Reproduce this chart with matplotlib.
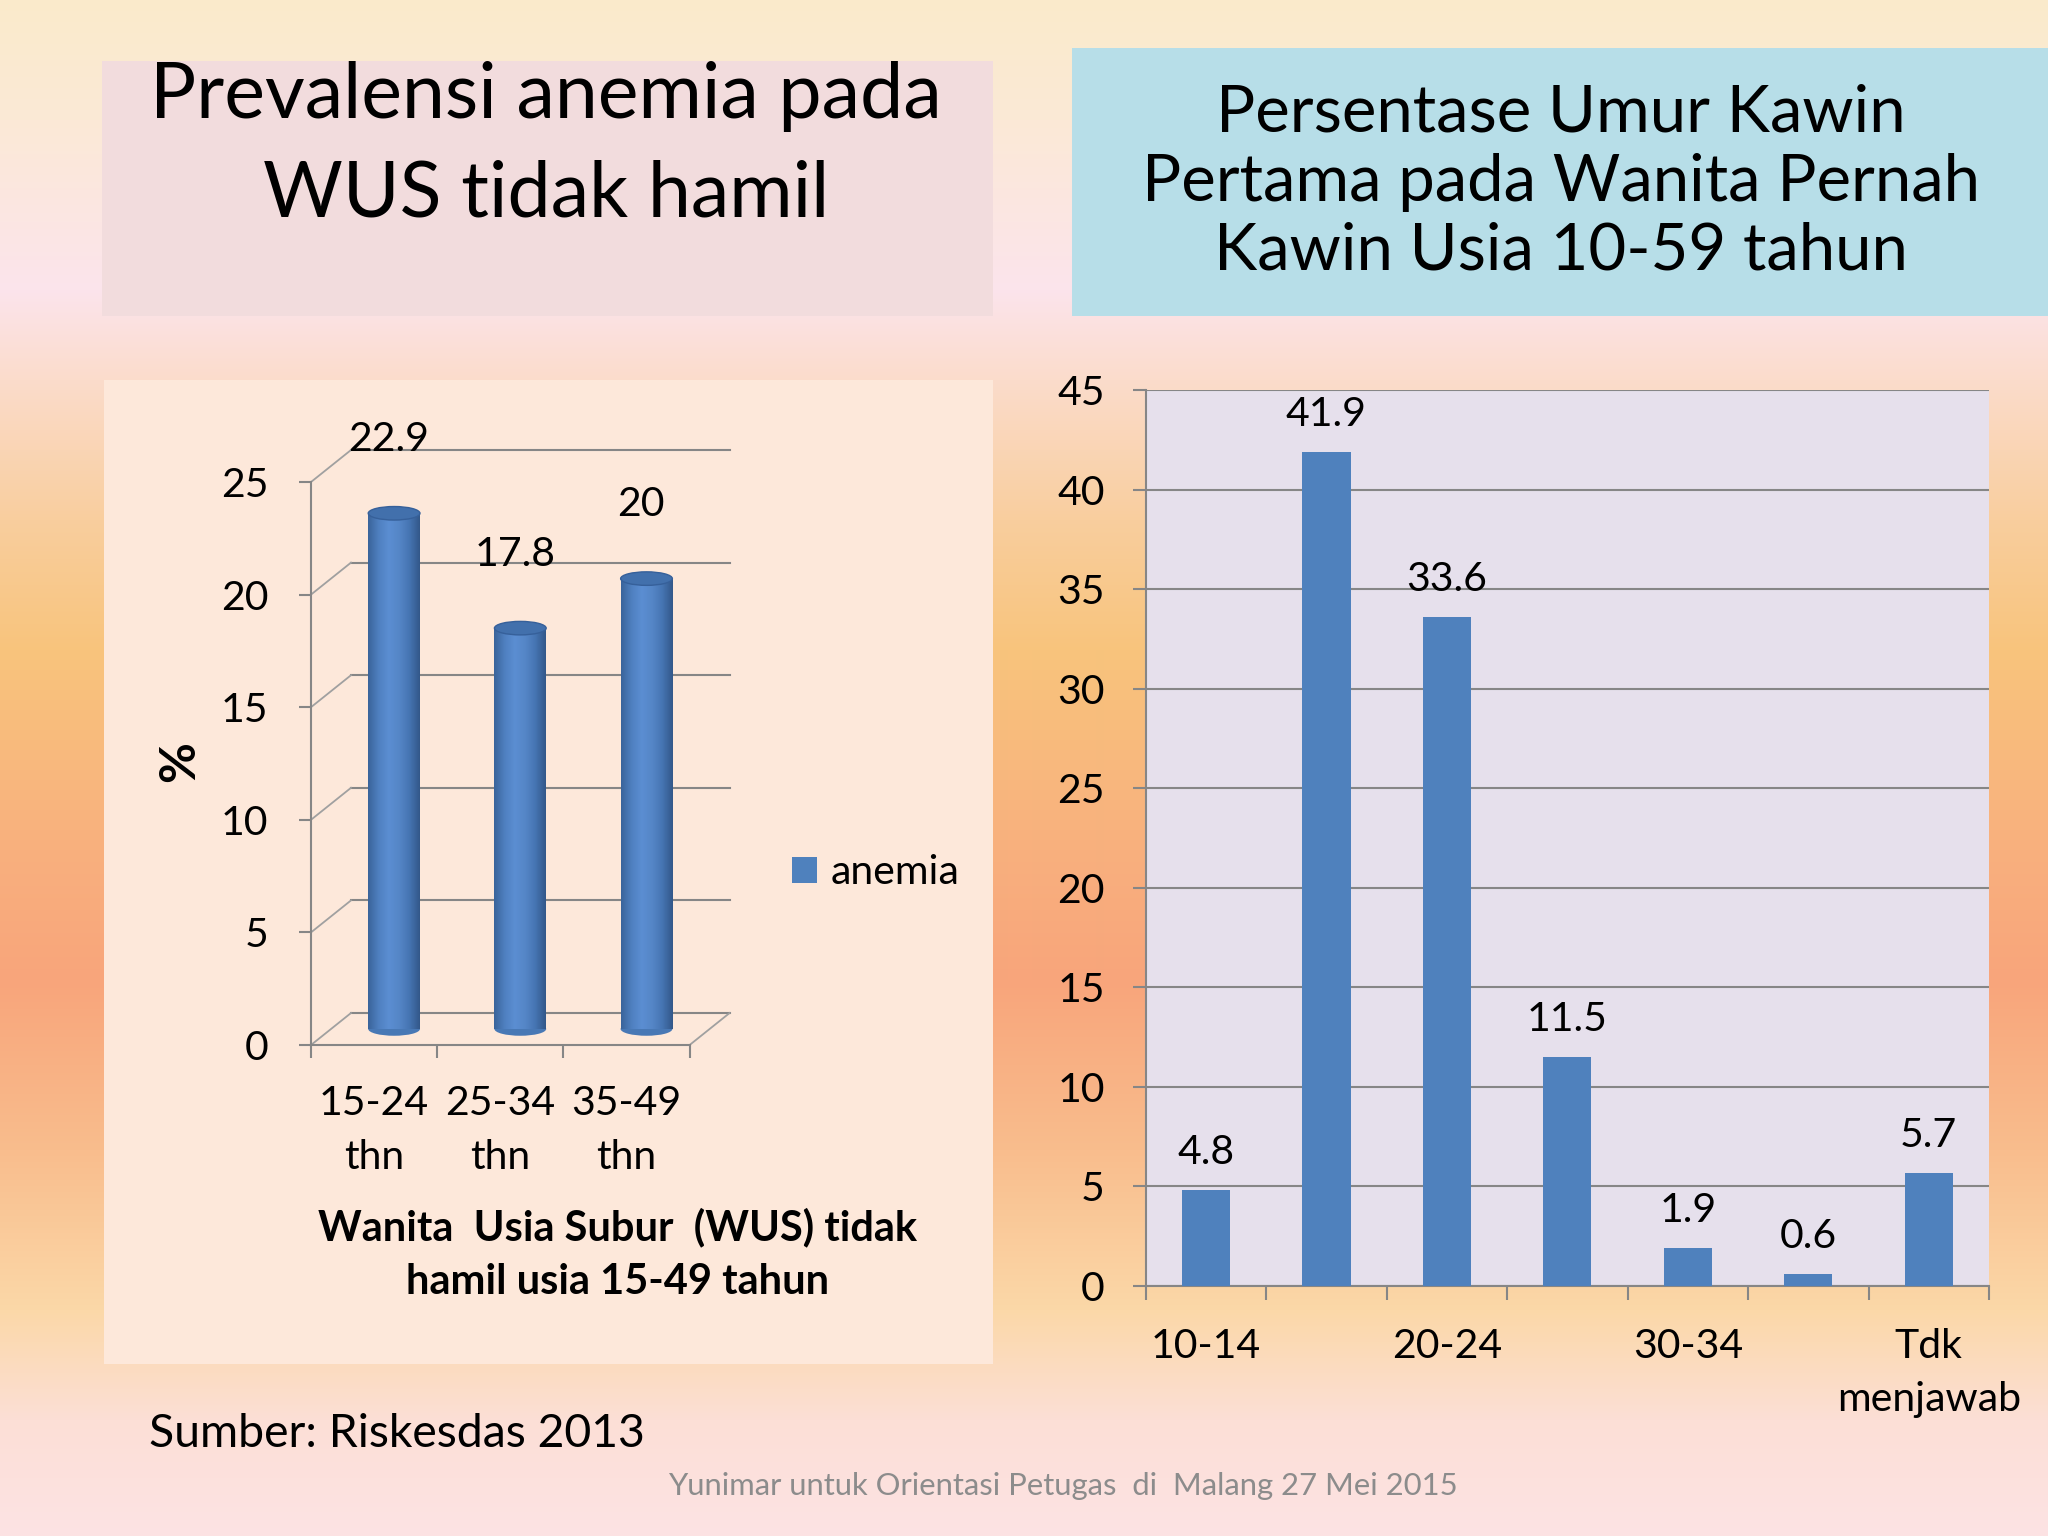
import numpy as np
import matplotlib
matplotlib.use("Agg")
import matplotlib.pyplot as plt
from matplotlib.patches import Rectangle, Ellipse
from matplotlib.colors import LinearSegmentedColormap, to_rgb

plt.rcParams['font.family'] = ['Lato', 'DejaVu Sans']

# ---------------- data ----------------
anemia_groups = ["15-24\nthn", "25-34\nthn", "35-49\nthn"]
anemia_values = [22.9, 17.8, 20.0]
anemia_series = "anemia"
anemia_ticks = [0, 5, 10, 15, 20, 25]

marriage_groups = ["10-14", "15-19", "20-24", "25-29", "30-34", "35-39", "Tdk\nmenjawab"]
marriage_values = [4.8, 41.9, 33.6, 11.5, 1.9, 0.6, 5.7]
marriage_ticks = [0, 5, 10, 15, 20, 25, 30, 35, 40, 45]

title_left = ["Prevalensi anemia pada", "WUS tidak hamil"]
title_right = ["Persentase Umur Kawin", "Pertama pada Wanita Pernah", "Kawin Usia 10-59 tahun"]
left_xlabel = "Wanita  Usia Subur  (WUS) tidak\nhamil usia 15-49 tahun"
left_ylabel = "%"
source_text = "Sumber: Riskesdas 2013"
footer_text = "Yunimar untuk Orientasi Petugas  di  Malang 27 Mei 2015"

# ---------------- figure ----------------
W, H = 2048, 1536
fig = plt.figure(figsize=(20.48, 15.36), dpi=100)


def fx(px):
    return px / W


def fy(py):
    return 1 - py / H


# background gradient (vertical)
bg = fig.add_axes([0, 0, 1, 1], zorder=-10)
bg.set_axis_off()
stops = [(0, '#FAEBCB'), (120, '#FBE9D6'), (290, '#FCE4EC'), (380, '#FBDCCB'),
         (520, '#F9CE9E'), (650, '#F8C47C'), (850, '#F8B07E'), (980, '#F8A57B'),
         (1150, '#F9BD8D'), (1310, '#FBD8A8'), (1420, '#FCDFD6'), (1536, '#FDE3E4')]
ys = np.arange(H)
sp = np.array([s[0] for s in stops])
cols = np.array([to_rgb(s[1]) for s in stops])
grad = np.stack([np.interp(ys, sp, cols[:, k]) for k in range(3)], axis=-1)[:, None, :]
bg.imshow(grad, aspect='auto', extent=[0, 1, 0, 1], origin='upper', interpolation='bilinear')
bg.set_xlim(0, 1)
bg.set_ylim(0, 1)


def rect(x0, y0, x1, y1, color):
    bg.add_patch(Rectangle((fx(x0), fy(y1)), fx(x1) - fx(x0), (y1 - y0) / H,
                           facecolor=color, edgecolor='none', zorder=2))


rect(102, 61, 993, 316, '#F2DCDD')
rect(1072, 48, 2048, 316, '#B7DEE8')
rect(104, 380, 993, 1364, '#FDE8DA')

# titles
for i, line in enumerate(title_left):
    fig.text(fx(546), fy(96 + i * 99), line, ha='center', va='center', fontsize=55.5, color='black')
for i, line in enumerate(title_right):
    fig.text(fx(1561), fy(113 + i * 69), line, ha='center', va='center', fontsize=47, color='black')

GRAY = '#868686'
FS = 29.5

# ---------------- left: 3D-like cylinder chart ----------------
axL = fig.add_axes([fx(311), fy(1045), (689.6 - 311) / W, (1045 - 482) / H])
axL.patch.set_visible(False)
nL = len(anemia_values)
axL.set_xlim(-0.5, nL - 0.5)
axL.set_ylim(0, 25)
DX = 40 / 126.2   # depth offset in category units
DY = 32 / 22.52   # depth offset in value units
EH = 0.6          # ellipse height in value units
BW = 0.41

for s in ['top', 'right']:
    axL.spines[s].set_visible(False)
for s in ['left', 'bottom']:
    axL.spines[s].set_color(GRAY)
    axL.spines[s].set_linewidth(1.5)

# back wall gridlines and side diagonals
for v in anemia_ticks:
    axL.plot([-0.5 + DX, nL - 0.5 + DX], [v + DY, v + DY], color=GRAY, lw=1.5, clip_on=False, zorder=1)
    axL.plot([-0.5, -0.5 + DX], [v, v + DY], color='#A0A0A0', lw=1.3, clip_on=False, zorder=1)
axL.plot([nL - 0.5, nL - 0.5 + DX], [0, DY], color='#A0A0A0', lw=1.3, clip_on=False, zorder=1)

axL.set_yticks(anemia_ticks)
axL.set_yticklabels([str(t) for t in anemia_ticks], fontsize=FS)
axL.tick_params(axis='y', length=8.6, width=1.5, color=GRAY, pad=22)
axL.set_xticks(range(nL))
axL.set_xticklabels(anemia_groups, fontsize=FS, linespacing=1.56)
axL.set_xticks(np.arange(-0.5, nL, 1.0), minor=True)
axL.tick_params(axis='x', which='major', length=0, pad=29)
axL.tick_params(axis='x', which='minor', length=9, width=1.5, color=GRAY)

cmap = LinearSegmentedColormap.from_list('cyl', ['#3A649B', '#4F80C0', '#5B8ED2', '#5586C7', '#4675B3', '#33588A'])
xc = np.arange(nL) + DX / 2
bars = axL.bar(xc, anemia_values, bottom=DY / 2, width=BW, color='#4F81BD',
               zorder=3, clip_on=False, label=anemia_series)
gimg = np.linspace(0, 1, 64)[None, :]
for b, x, v in zip(bars, xc, anemia_values):
    axL.add_patch(Ellipse((x, DY / 2), BW, EH, facecolor='#4878B5', edgecolor='none', zorder=2.9, clip_on=False))
    im = axL.imshow(gimg, cmap=cmap, aspect='auto', extent=[x - BW / 2, x + BW / 2, DY / 2, v + DY / 2],
                    zorder=3.1, interpolation='bilinear')
    im.set_clip_path(b)
    axL.add_patch(Ellipse((x, v + DY / 2), BW, EH, facecolor='#4270AC', edgecolor='#36609A',
                          lw=1, zorder=4, clip_on=False))
    axL.annotate(f"{v:g}", (x, v + DY / 2), xytext=(-4, 53), textcoords='offset points',
                 ha='center', va='center', fontsize=FS, zorder=5, annotation_clip=False)
axL.set_xlim(-0.5, nL - 0.5)
axL.set_ylim(0, 25)

axL.set_ylabel(left_ylabel, fontsize=36, fontweight='bold')
axL.yaxis.set_label_coords((180 - 311) / (689.6 - 311), (1045 - 762) / (1045 - 482))
axL.yaxis.label.set_ha('center')
axL.yaxis.label.set_va('center')
axL.set_xlabel(left_xlabel, fontsize=30, fontweight='bold', linespacing=1.52)
axL.xaxis.set_label_coords((618 - 311) / (689.6 - 311), -(1254 - 1045) / (1045 - 482))
axL.xaxis.label.set_va('center')

axL.legend(loc='center left', bbox_to_anchor=(fx(792), fy(873)), bbox_transform=fig.transFigure,
           frameon=False, fontsize=FS, handlelength=0.6, handleheight=0.62, handletextpad=0.35,
           borderpad=0, borderaxespad=0)

# ---------------- right: bar chart ----------------
axR = fig.add_axes([fx(1145.7), fy(1286), (1989 - 1145.7) / W, (1286 - 390) / H])
axR.set_facecolor('#E6E0EC')
nR = len(marriage_values)
xr = np.arange(nR)
barsR = axR.bar(xr, marriage_values, width=0.4, color='#4F81BD', zorder=3)
axR.set_xlim(-0.5, nR - 0.5)
axR.set_ylim(0, 45)
axR.set_yticks(marriage_ticks)
axR.set_yticklabels([str(t) for t in marriage_ticks], fontsize=FS)
axR.yaxis.grid(True, color=GRAY, lw=1.5, zorder=0)
axR.set_axisbelow(True)
for s in ['top', 'right']:
    axR.spines[s].set_visible(False)
for s in ['left', 'bottom']:
    axR.spines[s].set_color(GRAY)
    axR.spines[s].set_linewidth(1.5)
axR.tick_params(axis='y', length=9.4, width=1.5, color=GRAY, pad=20)
axR.set_xticks(xr)
axR.set_xticklabels([g if i % 2 == 0 else '' for i, g in enumerate(marriage_groups)],
                    fontsize=FS, linespacing=1.56)
axR.set_xticks(np.arange(-0.5, nR, 1.0), minor=True)
axR.tick_params(axis='x', which='major', length=0, pad=30)
axR.tick_params(axis='x', which='minor', length=10, width=1.5, color=GRAY)
for x, v in zip(xr, marriage_values):
    axR.annotate(f"{v:g}", (x, v), xytext=(0, 27), textcoords='offset points',
                 ha='center', va='center', fontsize=FS, annotation_clip=False)

# ---------------- footer texts ----------------
fig.text(fx(149), fy(1434), source_text, ha='left', va='center', fontsize=33.4, color='black')
fig.text(fx(1063), fy(1486), footer_text, ha='center', va='center', fontsize=22.3, color='#8C8C8C')

fig.savefig('out.png', dpi=100)
